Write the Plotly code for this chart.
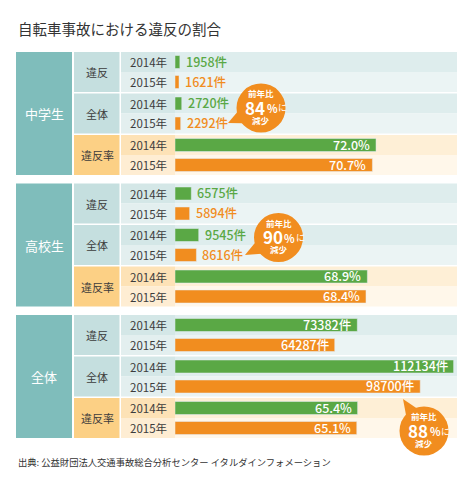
import math
import plotly.graph_objects as go

# ---- data ----
sections = ["中学生", "高校生", "全体"]
groups = ["違反", "全体", "違反率"]
years = ["2014年", "2015年"]
violations_2014 = [1958, 6575, 73382]
violations_2015 = [1621, 5894, 64287]
total_2014 = [2720, 9545, 112134]
total_2015 = [2292, 8616, 98700]
rate_2014 = [72.0, 68.9, 65.4]
rate_2015 = [70.7, 68.4, 65.1]
yoy_pct = [84, 90, 88]

title = "自転車事故における違反の割合"
source = "出典: 公益財団法人交通事故総合分析センター イタルダインフォメーション"

# ---- look ----
W, H = 474, 482
GREEN = "#5AA845"
ORANGE = "#F18D1F"
FONT = "Noto Sans CJK JP"
TXT = "#3c3c3c"

SEC_TOP = [52, 183.5, 315]
GROUP_STEP = 41.5
GROUP_H = 40
ROW_H = 20
BAR_X0, BAR_X1 = 175, 457
INSIDE_MIN = 20000  # count bars longer than this carry their label inside

# bubble centre + tail tip (pixels)
bubbles = [((261, 108), (228, 123)),
           ((278.5, 237.5), (245, 255)),
           ((424, 431), (403, 399))]
BUB_R = 24.5


def px(x):
    return x / W


def py(y):
    return 1 - y / H


def row_y(s, g, r):
    return SEC_TOP[s] + g * GROUP_STEP + r * ROW_H + ROW_H / 2


def rect(x0, y0, x1, y1, color):
    return dict(type="rect", xref="paper", yref="paper", layer="below",
                x0=px(x0), x1=px(x1), y0=py(y1), y1=py(y0),
                fillcolor=color, line_width=0)


shapes = []
annotations = []

for s, name in enumerate(sections):
    top = SEC_TOP[s]
    bottom = top + 2 * GROUP_STEP + GROUP_H
    shapes.append(rect(16, top, 72, bottom, "#7FBDBB"))
    annotations.append(dict(x=px(44), y=py((top + bottom) / 2), text=name,
                            font=dict(size=13, color="white")))
    for g, gname in enumerate(groups):
        y0 = top + g * GROUP_STEP
        y1 = y0 + GROUP_H
        rate = g == 2
        shapes.append(rect(74, y0, 119.5, y1, "#FCD085" if rate else "#C5DFDF"))
        annotations.append(dict(x=px(97), y=py((y0 + y1) / 2), text=gname,
                                font=dict(size=11, color=TXT)))
        for r, yr in enumerate(years):
            ry0 = y0 + r * ROW_H
            ry1 = ry0 + ROW_H
            if rate:
                ycol = ["#FDE2B6", "#FEEDD3"][r]
                bcol = ["#FEEFD6", "#FFF7EA"][r]
            else:
                ycol = ["#D4E7E7", "#E3EFEF"][r]
                bcol = ["#DEEDED", "#EBF4F4"][r]
            shapes.append(rect(121, ry0, BAR_X0, ry1, ycol))
            shapes.append(rect(BAR_X0, ry0, BAR_X1, ry1, bcol))
            annotations.append(dict(x=px(148), y=py((ry0 + ry1) / 2), text=yr,
                                    font=dict(size=11.5, color=TXT)))

# ---- bars ----
traces = []
count_sets = [(violations_2014, total_2014, 0, GREEN),
              (violations_2015, total_2015, 1, ORANGE)]
for v_list, t_list, r, color in count_sets:
    xs, ys = [], []
    for s in range(len(sections)):
        for g, vals in enumerate([v_list, t_list]):
            xs.append(vals[s])
            ys.append(row_y(s, g, r))
    traces.append(go.Bar(x=xs, y=ys, orientation="h", width=13,
                         marker_color=color, xaxis="x", yaxis="y",
                         hoverinfo="skip"))
    for v, y in zip(xs, ys):
        inside = v > INSIDE_MIN
        annotations.append(dict(
            x=v, y=y, xref="x", yref="y", text=f"{v}件",
            xanchor="right" if inside else "left", xshift=-4 if inside else 4,
            yshift=1,
            font=dict(size=12.5, color="white" if inside else color,
                      weight=500)))

for vals, r, color in [(rate_2014, 0, GREEN), (rate_2015, 1, ORANGE)]:
    ys = [row_y(s, 2, r) for s in range(len(sections))]
    traces.append(go.Bar(x=vals, y=ys, orientation="h", width=13,
                         marker_color=color, xaxis="x2", yaxis="y",
                         hoverinfo="skip"))
    for v, y in zip(vals, ys):
        annotations.append(dict(
            x=v, y=y, xref="x2", yref="y", text=f"{v:.1f}%",
            xanchor="right", xshift=-4, yshift=1,
            font=dict(size=12.5, color="white", weight=500)))

# ---- bubbles ----
for (c, tip), pct in zip(bubbles, yoy_pct):
    cx, cy = c
    tx, ty = tip
    ang = math.atan2(ty - cy, tx - cx)
    pts = []
    for d in (-0.28, 0.28):
        pts.append((cx + (BUB_R - 1) * math.cos(ang + d),
                    cy + (BUB_R - 1) * math.sin(ang + d)))
    path = (f"M {px(tx)},{py(ty)} L {px(pts[0][0])},{py(pts[0][1])} "
            f"L {px(pts[1][0])},{py(pts[1][1])} Z")
    shapes.append(dict(type="path", xref="paper", yref="paper", path=path,
                       fillcolor=ORANGE, line_width=0, layer="above"))
    shapes.append(dict(type="circle", xref="paper", yref="paper",
                       x0=px(cx - BUB_R), x1=px(cx + BUB_R),
                       y0=py(cy + BUB_R), y1=py(cy - BUB_R),
                       fillcolor=ORANGE, line_width=0, layer="above"))
    white = "white"
    annotations += [
        dict(x=px(cx), y=py(cy - 15), text="<b>前年比</b>",
             font=dict(size=8.5, color=white)),
        dict(x=px(cx + 5), y=py(cy - 1), text=f"<b>{pct}</b>",
             xanchor="right", borderpad=0, font=dict(size=17, color=white)),
        dict(x=px(cx + 4.5), y=py(cy), text="<b>%</b>", xanchor="left",
             borderpad=0, font=dict(size=11, color=white)),
        dict(x=px(cx + 16), y=py(cy), text="に", xanchor="left",
             borderpad=0, font=dict(size=9, color=white)),
        dict(x=px(cx), y=py(cy + 11.5), text="<b>減少</b>",
             font=dict(size=8.5, color=white)),
    ]

annotations.append(dict(x=px(16), y=py(28), text=title, xanchor="left",
                        font=dict(size=14.5, color="#333333")))
annotations.append(dict(x=px(16), y=py(462), text=source, xanchor="left",
                        font=dict(size=9.3, color="#333333")))

for a in annotations:
    a.setdefault("xref", "paper")
    a.setdefault("yref", "paper")
    a.setdefault("xanchor", "center")
    a.setdefault("yanchor", "middle")
    a["showarrow"] = False
    a["font"].setdefault("family", FONT)

fig = go.Figure(data=traces)
hidden = dict(visible=False, showgrid=False, zeroline=False, fixedrange=True)
fig.update_layout(
    width=W, height=H, margin=dict(l=0, r=0, t=0, b=0),
    paper_bgcolor="white", plot_bgcolor="rgba(0,0,0,0)",
    showlegend=False, barmode="overlay",
    font=dict(family=FONT),
    xaxis=dict(domain=[px(BAR_X0), px(BAR_X1)], range=[0, 113500], **hidden),
    xaxis2=dict(overlaying="x", range=[0, 101], anchor="y", **hidden),
    yaxis=dict(domain=[0, 1], range=[H, 0], **hidden),
    shapes=shapes, annotations=annotations,
)
# page body has an 8px default margin; drop it so the figure sits at 0,0
fig.write_html("out.html", config={"displayModeBar": False},
               post_script="document.body.style.margin='0';")
